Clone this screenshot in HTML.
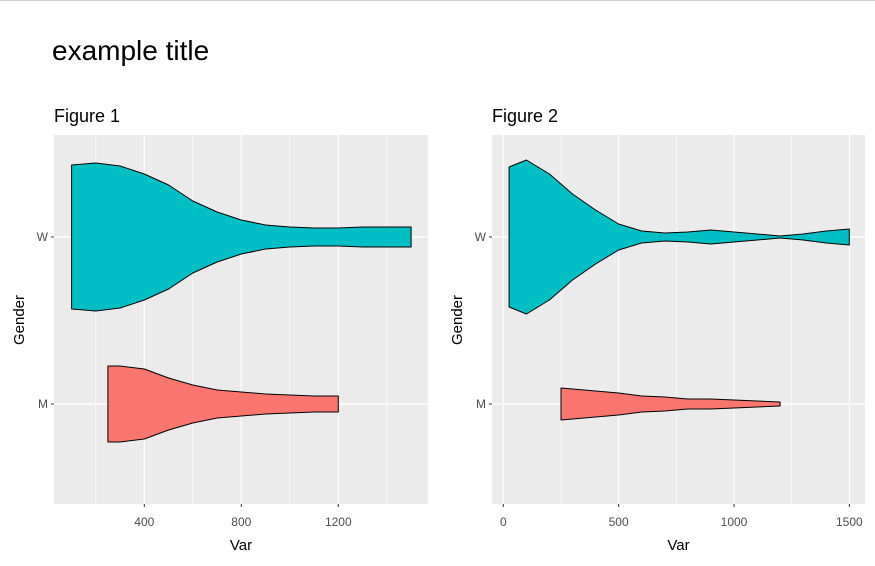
<!DOCTYPE html>
<html><head><meta charset="utf-8"><style>
body{margin:0;background:#fff;}
svg text{font-family:"Liberation Sans",Arial,sans-serif;}
</style></head><body>
<svg width="875" height="561" viewBox="0 0 875 561">
<line x1="0" y1="0.5" x2="875" y2="0.5" stroke="#ccc"/>
<text x="52" y="60" font-size="28" fill="#000">example title</text>
<g id="p1"></g>
<g id="p2"></g>
</svg>
<script>
const vals1W = [100,200,300,400,500,600,700,800,900,1000,1100,1200,1300,1400,1500];
const half1W = [72,74,71,63,52,36,25,17,12,10,9,9,10,10,10];
const vals1M = [250,300,400,500,600,700,800,900,1000,1100,1200];
const half1M = [38,38,35,26,19,14,12,10,9,8,8];
const vals2W = [25,100,200,300,400,500,600,700,800,900,1000,1100,1200,1300,1400,1500];
const half2W = [70,77,63,43,27,13,6,4,5,7,5,3,1,3,6,8];
const vals2M = [250,400,500,600,700,800,900,1000,1100,1200];
const half2M = [16,13,11,8,7,5,5,4,3,2];
const ticks1 = [400,800,1200];
const minor1 = [200,600,1000,1400];
const ticks2 = [0,500,1000,1500];
const minor2 = [250,750,1250];
const cats = ["W","M"];

const NS="http://www.w3.org/2000/svg";
function mk(parent,tag,attrs){const e=document.createElementNS(NS,tag);for(const k in attrs)e.setAttribute(k,attrs[k]);parent.appendChild(e);return e;}

function panel(g,opt){
  const {x0,x1,v0,px0,scale,title,ticks,minor,series}=opt;
  const top=135,bot=504;
  const xs=v=>px0+(v-v0)*scale;
  const ys={W:237,M:404};
  const t=mk(g,'text',{x:x0,y:122,'font-size':18,fill:'#000'});t.textContent=title;
  
  
  const bg=mk(g,'rect',{x:x0,y:top,width:x1-x0,height:bot-top,fill:'#ebebeb'});
  
  
  minor.forEach(v=>{const l=mk(g,'line',{x1:xs(v),x2:xs(v),y1:top,y2:bot,stroke:'#fff','stroke-width':0.6});
    
    });
  ticks.forEach(v=>{const l=mk(g,'line',{x1:xs(v),x2:xs(v),y1:top,y2:bot,stroke:'#fff','stroke-width':1.2});
    
    
    const tk=mk(g,'line',{x1:xs(v),x2:xs(v),y1:bot,y2:bot+3,stroke:'#333'});
    
    
    const tl=mk(g,'text',{x:xs(v),y:526,'font-size':12,fill:'#4d4d4d','text-anchor':'middle'});tl.textContent=v;
    
    });
  cats.forEach(c=>{const l=mk(g,'line',{x1:x0,x2:x1,y1:ys[c],y2:ys[c],stroke:'#fff','stroke-width':1.2});
    
    
    const tk=mk(g,'line',{x1:x0-3,x2:x0,y1:ys[c],y2:ys[c],stroke:'#333'});
    
    
    const tl=mk(g,'text',{x:x0-6,y:ys[c]+4,'font-size':12,fill:'#4d4d4d','text-anchor':'end'});tl.textContent=c;
    
    });
  series.forEach(s=>{
    const cy=ys[s.cat];
    const up=s.vals.map((v,i)=>xs(v).toFixed(1)+','+(cy-s.half[i]).toFixed(1));
    const dn=s.vals.map((v,i)=>xs(v).toFixed(1)+','+(cy+s.half[i]).toFixed(1)).reverse();
    const p=mk(g,'polygon',{points:up.concat(dn).join(' '),fill:s.fill,stroke:'#000','stroke-width':1,'stroke-linejoin':'round'});
    
    
  });
  const xt=mk(g,'text',{x:(x0+x1)/2,y:550,'font-size':15,fill:'#000','text-anchor':'middle'});xt.textContent='Var';
  
  
  const yt=mk(g,'text',{x:0,y:0,'font-size':15,fill:'#000','text-anchor':'middle',transform:`translate(${x0-30},320) rotate(-90)`});yt.textContent='Gender';
  
  
}
panel(document.getElementById('p1'),{x0:54,x1:428,v0:400,px0:144.3,scale:0.2425,title:'Figure 1',ticks:ticks1,minor:minor1,
  series:[{cat:'W',vals:vals1W,half:half1W,fill:'#00bfc4'},{cat:'M',vals:vals1M,half:half1M,fill:'#f8766d'}]});
panel(document.getElementById('p2'),{x0:492,x1:865,v0:0,px0:503.3,scale:0.2307,title:'Figure 2',ticks:ticks2,minor:minor2,
  series:[{cat:'W',vals:vals2W,half:half2W,fill:'#00bfc4'},{cat:'M',vals:vals2M,half:half2M,fill:'#f8766d'}]});
</script>
</body></html>
